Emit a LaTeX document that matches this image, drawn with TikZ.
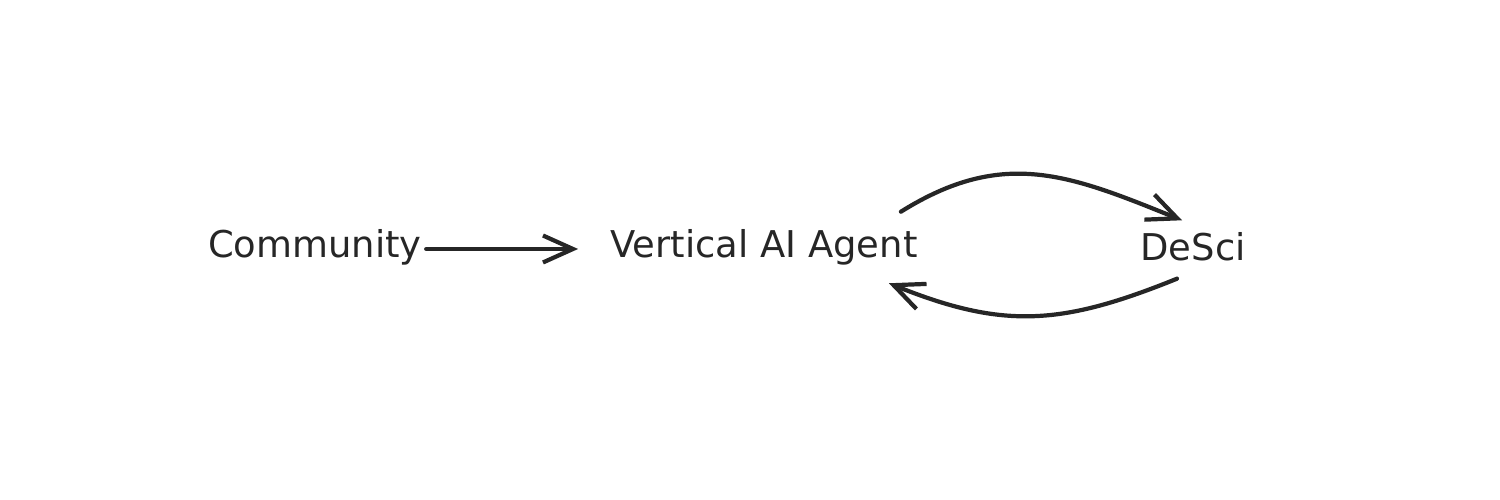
\documentclass[tikz,border=0pt]{standalone}
\usepackage{fontspec}
\setmainfont{DejaVu Sans}
\usetikzlibrary{arrows.meta,positioning}
\begin{document}
\begin{tikzpicture}[label/.style={font=\fontsize{10.5}{12}\selectfont,text=black!85},
 link/.style={line width=1.2pt,black!85,line cap=round,-{Straight Barb[length=3mm,width=2.7mm,line width=1.2pt]}}]
 \useasboundingbox (0,0) rectangle (15,5);
 \node[label] (community) at (3.15,2.53) {Community};
 \node[label] (agent) at (7.64,2.53) {Vertical AI Agent};
 \node[label] (desci) at (11.93,2.53) {DeSci};
 \draw[link] ([xshift=-0.08cm,yshift=-0.02cm]community.east) -- ([xshift=-0.2cm,yshift=-0.02cm]agent.west);
 \draw[link] ([xshift=-0.29cm,yshift=0.05cm]agent.north east) to[out=32,in=158,looseness=1.1] ([xshift=0.54cm]desci.north west);
 \draw[link] ([xshift=0.49cm,yshift=-0.05cm]desci.south west) to[out=202,in=-22,looseness=1.1] ([xshift=-0.41cm,yshift=-0.06cm]agent.south east);
\end{tikzpicture}
\end{document}
